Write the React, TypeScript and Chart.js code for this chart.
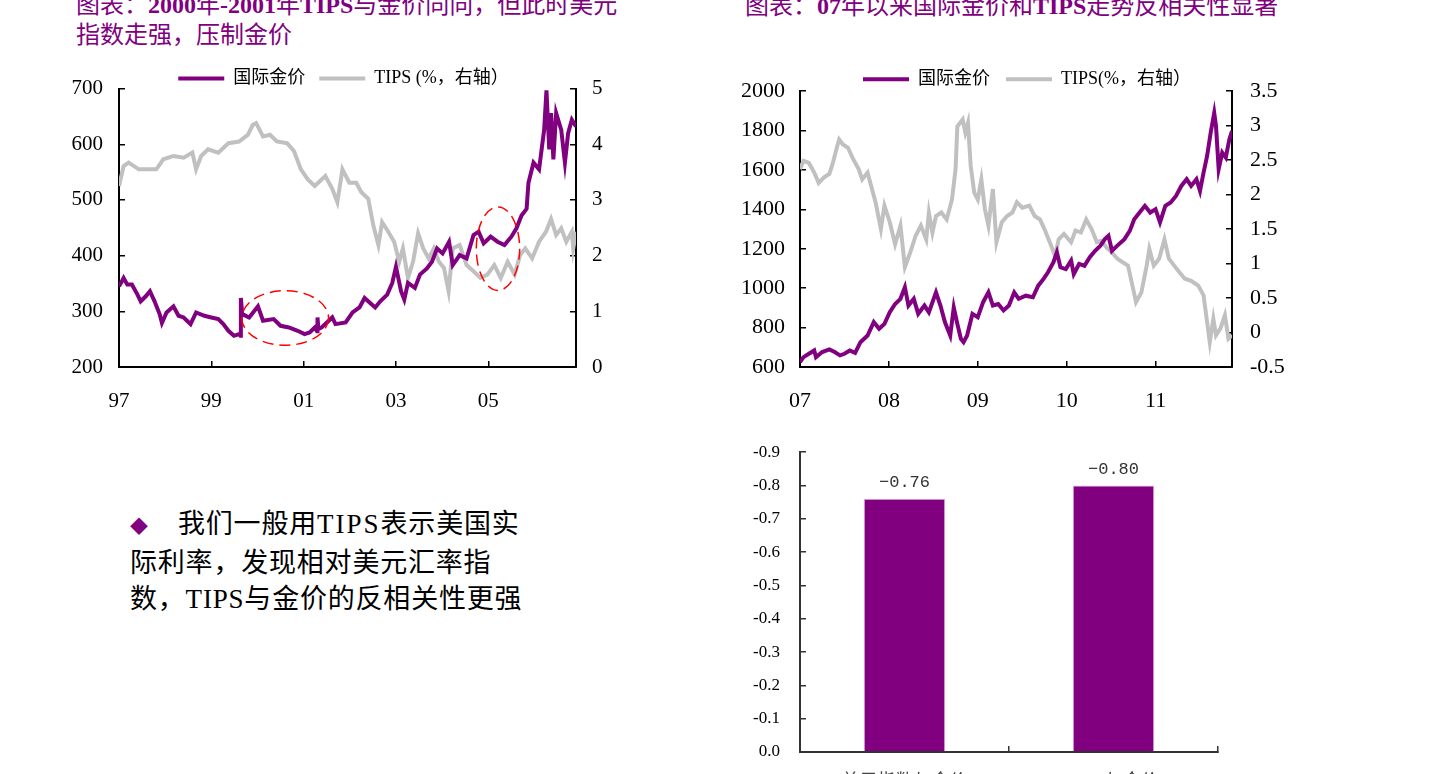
import React, { useEffect, useRef } from 'react';
import { Chart, registerables } from 'chart.js';

Chart.register(...registerables);

// ---------- Chart 1: 1997-2006 gold vs TIPS ----------
const goldYears1 = [1997.00, 1997.05, 1997.10, 1997.18, 1997.28, 1997.40, 1997.47, 1997.58, 1997.67, 1997.77, 1997.88, 1997.93, 1998.03, 1998.18, 1998.29, 1998.40, 1998.55, 1998.67, 1998.85, 1999.00, 1999.15, 1999.26, 1999.37, 1999.49, 1999.60, 1999.63, 1999.64, 1999.67, 1999.82, 2000.01, 2000.12, 2000.35, 2000.50, 2000.68, 2000.87, 2001.02, 2001.13, 2001.24, 2001.29, 2001.30, 2001.32, 2001.39, 2001.62, 2001.69, 2001.91, 2002.06, 2002.21, 2002.32, 2002.44, 2002.55, 2002.66, 2002.81, 2002.92, 2003.00, 2003.11, 2003.18, 2003.26, 2003.41, 2003.52, 2003.67, 2003.78, 2003.89, 2004.01, 2004.15, 2004.23, 2004.38, 2004.53, 2004.68, 2004.79, 2004.90, 2005.05, 2005.20, 2005.35, 2005.50, 2005.61, 2005.72, 2005.83, 2005.87, 2005.98, 2006.10, 2006.21, 2006.26, 2006.32, 2006.36, 2006.41, 2006.47, 2006.58, 2006.66, 2006.73, 2006.81, 2006.90];
const goldValues1 = [345, 352, 360, 348, 348, 330, 318, 327, 336, 318, 295, 279, 298, 309, 292, 289, 277, 298, 292, 289, 286, 277, 265, 256, 259, 256, 324, 295, 289, 309, 283, 286, 274, 271, 265, 259, 262, 271, 264, 289, 268, 271, 289, 277, 280, 298, 307, 324, 315, 307, 318, 330, 351, 380, 336, 321, 351, 342, 366, 377, 389, 413, 404, 425, 383, 401, 395, 437, 443, 422, 434, 425, 419, 434, 449, 472, 484, 531, 567, 555, 626, 697, 591, 656, 573, 656, 626, 567, 620, 644, 632];
const tipsYears1 = [1997.00, 1997.10, 1997.21, 1997.43, 1997.66, 1997.81, 1997.96, 1998.18, 1998.40, 1998.59, 1998.67, 1998.78, 1998.93, 1999.15, 1999.37, 1999.60, 1999.79, 1999.90, 1999.97, 2000.12, 2000.27, 2000.42, 2000.64, 2000.79, 2000.94, 2001.09, 2001.24, 2001.47, 2001.62, 2001.73, 2001.84, 2001.99, 2002.14, 2002.25, 2002.40, 2002.51, 2002.62, 2002.70, 2002.81, 2002.96, 2003.07, 2003.15, 2003.26, 2003.37, 2003.48, 2003.59, 2003.71, 2003.82, 2003.93, 2004.04, 2004.14, 2004.23, 2004.38, 2004.53, 2004.68, 2004.83, 2004.98, 2005.13, 2005.27, 2005.42, 2005.57, 2005.69, 2005.80, 2005.95, 2006.10, 2006.25, 2006.36, 2006.47, 2006.58, 2006.69, 2006.81, 2006.84, 2006.90];
const tipsValues1 = [3.25, 3.61, 3.67, 3.55, 3.55, 3.55, 3.73, 3.79, 3.76, 3.85, 3.55, 3.79, 3.91, 3.85, 4.02, 4.05, 4.17, 4.35, 4.38, 4.14, 4.17, 4.05, 4.02, 3.88, 3.55, 3.37, 3.25, 3.43, 3.20, 2.96, 3.55, 3.31, 3.31, 3.14, 3.02, 2.54, 2.19, 2.60, 2.46, 2.25, 1.89, 2.13, 1.60, 1.89, 2.40, 2.13, 1.95, 2.13, 1.89, 1.78, 1.36, 2.13, 2.19, 1.83, 1.72, 1.60, 1.66, 1.83, 1.60, 1.89, 1.66, 2.01, 2.13, 1.95, 2.25, 2.43, 2.66, 2.37, 2.49, 2.25, 2.43, 2.13, 2.43];
const xTicks1 = [1997, 1999, 2001, 2003, 2005];
// dashed highlight ellipses (data units: years / gold price)
const ellipseCenterYears = [2000.6, 2005.21];
const ellipseCenterGold = [288, 412.5];
const ellipseHalfYears = [0.94, 0.47];
const ellipseHalfGold = [49, 75];

// ---------- Chart 2: 2007-2011 gold vs TIPS ----------
const goldYears2 = [2007.00, 2007.04, 2007.10, 2007.16, 2007.18, 2007.25, 2007.33, 2007.39, 2007.45, 2007.50, 2007.56, 2007.62, 2007.68, 2007.76, 2007.83, 2007.89, 2007.95, 2008.01, 2008.07, 2008.13, 2008.18, 2008.22, 2008.28, 2008.33, 2008.40, 2008.45, 2008.53, 2008.58, 2008.63, 2008.69, 2008.73, 2008.77, 2008.81, 2008.84, 2008.88, 2008.94, 2009.00, 2009.06, 2009.12, 2009.17, 2009.23, 2009.29, 2009.35, 2009.41, 2009.46, 2009.54, 2009.62, 2009.68, 2009.74, 2009.79, 2009.85, 2009.89, 2009.93, 2009.99, 2010.05, 2010.08, 2010.14, 2010.20, 2010.26, 2010.32, 2010.38, 2010.43, 2010.47, 2010.51, 2010.57, 2010.65, 2010.71, 2010.76, 2010.82, 2010.88, 2010.94, 2011.00, 2011.05, 2011.11, 2011.17, 2011.23, 2011.29, 2011.35, 2011.40, 2011.46, 2011.50, 2011.54, 2011.58, 2011.62, 2011.66, 2011.68, 2011.71, 2011.75, 2011.79, 2011.83, 2011.86];
const goldValues2 = [625, 650, 667, 684, 650, 676, 689, 676, 659, 667, 684, 672, 726, 760, 828, 794, 819, 878, 920, 946, 1005, 912, 946, 870, 912, 878, 979, 912, 828, 760, 903, 819, 743, 726, 760, 870, 853, 929, 979, 912, 920, 887, 912, 979, 946, 962, 954, 1013, 1047, 1081, 1131, 1182, 1106, 1097, 1140, 1072, 1123, 1114, 1157, 1190, 1216, 1249, 1266, 1190, 1216, 1249, 1291, 1350, 1384, 1418, 1384, 1401, 1334, 1418, 1435, 1468, 1519, 1553, 1519, 1553, 1494, 1587, 1671, 1789, 1890, 1823, 1604, 1688, 1663, 1755, 1798];
const tipsYears2 = [2007.00, 2007.04, 2007.10, 2007.16, 2007.21, 2007.27, 2007.33, 2007.37, 2007.41, 2007.44, 2007.48, 2007.54, 2007.60, 2007.66, 2007.70, 2007.76, 2007.80, 2007.85, 2007.91, 2007.95, 2008.01, 2008.07, 2008.13, 2008.18, 2008.24, 2008.30, 2008.36, 2008.42, 2008.45, 2008.49, 2008.53, 2008.59, 2008.65, 2008.71, 2008.75, 2008.77, 2008.80, 2008.83, 2008.86, 2008.89, 2008.92, 2008.96, 2009.00, 2009.04, 2009.08, 2009.12, 2009.17, 2009.21, 2009.27, 2009.33, 2009.39, 2009.44, 2009.50, 2009.58, 2009.64, 2009.70, 2009.75, 2009.81, 2009.87, 2009.91, 2009.97, 2010.05, 2010.10, 2010.16, 2010.22, 2010.28, 2010.34, 2010.39, 2010.45, 2010.51, 2010.57, 2010.63, 2010.69, 2010.74, 2010.78, 2010.84, 2010.90, 2010.93, 2010.98, 2011.04, 2011.10, 2011.15, 2011.21, 2011.27, 2011.33, 2011.40, 2011.48, 2011.54, 2011.58, 2011.61, 2011.65, 2011.68, 2011.73, 2011.78, 2011.82, 2011.86];
const tipsValues2 = [2.37, 2.49, 2.46, 2.32, 2.17, 2.25, 2.30, 2.46, 2.66, 2.80, 2.73, 2.68, 2.51, 2.37, 2.22, 2.32, 2.13, 1.89, 1.50, 1.84, 1.60, 1.28, 1.55, 0.95, 1.16, 1.40, 1.55, 1.35, 1.74, 1.45, 1.69, 1.74, 1.64, 1.93, 2.37, 2.99, 3.04, 3.09, 2.90, 3.04, 2.42, 2.03, 1.93, 2.22, 1.79, 1.55, 2.08, 1.31, 1.60, 1.69, 1.74, 1.89, 1.81, 1.84, 1.69, 1.64, 1.50, 1.31, 1.11, 1.35, 1.43, 1.31, 1.48, 1.45, 1.64, 1.50, 1.31, 1.33, 1.23, 1.16, 1.07, 1.02, 0.97, 0.68, 0.44, 0.58, 0.97, 1.21, 0.97, 1.07, 1.35, 1.07, 0.97, 0.87, 0.78, 0.75, 0.68, 0.54, 0.15, -0.14, 0.20, -0.04, 0.06, 0.25, -0.09, -0.04];
const xTicks2 = [2007, 2008, 2009, 2010, 2011];

// ---------- Chart 3: correlation bars ----------
const barCategories = ['美元指数与金价', 'TIPS与金价'];
const barValues = [-0.76, -0.80];

const PURPLE = '#800080';
const GRAY = '#c0c0c0';
const SERIF = '"Liberation Serif", "Times New Roman", serif';
const MIXED = '"Liberation Serif", "Noto Sans CJK SC", serif';

const toPoints = (xs: number[], ys: number[]) => xs.map((x, i) => ({ x, y: ys[i] }));

const tickGrid = { drawOnChartArea: false, drawTicks: true, tickLength: -6, color: '#000', lineWidth: 1.5 };
const axisBorder = { display: true, color: '#000', width: 2 };

function lineChartConfig(opts: any) {
  const f = { family: SERIF, size: opts.fontSize };
  return {
    type: 'line',
    data: {
      datasets: [
        { label: '国际金价', data: toPoints(opts.gx, opts.gy), borderColor: PURPLE, backgroundColor: PURPLE, borderWidth: 4, pointRadius: 0, yAxisID: 'y', tension: 0 },
        { label: opts.tipsLabel, data: toPoints(opts.tx, opts.ty), borderColor: GRAY, backgroundColor: GRAY, borderWidth: 4, pointRadius: 0, yAxisID: 'y1', tension: 0 },
      ],
    },
    options: {
      responsive: false,
      maintainAspectRatio: false,
      animation: false,
      events: [],
      plugins: {
        tooltip: { enabled: false },
        legend: {
          position: 'top',
          maxHeight: opts.legendH,
          labels: {
            usePointStyle: true,
            pointStyle: 'line',
            pointStyleWidth: 46,
            padding: opts.legendPad,
            color: '#000',
            font: { family: MIXED, size: 18 },
          },
        },
      },
      scales: {
        x: {
          type: 'linear',
          position: 'bottom',
          min: opts.xmin,
          max: opts.xmax,
          afterBuildTicks: (s: any) => { s.ticks = opts.xticks.map((v: number) => ({ value: v })); },
          afterFit: (s: any) => { s.height = 53; },
          grid: tickGrid,
          border: axisBorder,
          ticks: { padding: opts.xPad, color: '#000', font: f, maxRotation: 0, autoSkip: false, callback: (v: any) => String(v).slice(2) },
        },
        y: {
          position: 'left',
          min: opts.ymin,
          max: opts.ymax,
          afterFit: (s: any) => { s.width = opts.leftW; },
          grid: tickGrid,
          border: axisBorder,
          ticks: { stepSize: opts.ystep, padding: opts.leftPad, color: '#000', font: f, callback: (v: any) => String(v) },
        },
        y1: {
          position: 'right',
          min: opts.y1min,
          max: opts.y1max,
          afterFit: (s: any) => { s.width = opts.rightW; },
          grid: tickGrid,
          border: axisBorder,
          ticks: { stepSize: opts.y1step, padding: opts.rightPad, color: '#000', font: f, callback: (v: any) => String(v) },
        },
      },
    },
  };
}

const ellipsePlugin = {
  id: 'ellipses',
  afterDatasetsDraw(chart: any) {
    const { ctx } = chart;
    const xs = chart.scales.x;
    const ys = chart.scales.y;
    ctx.save();
    ctx.strokeStyle = '#ff0000';
    ctx.lineWidth = 1.5;
    ctx.setLineDash([11, 6]);
    ellipseCenterYears.forEach((cxv, i) => {
      const cx = xs.getPixelForValue(cxv);
      const cy = ys.getPixelForValue(ellipseCenterGold[i]);
      const rx = Math.abs(xs.getPixelForValue(cxv + ellipseHalfYears[i]) - cx);
      const ry = Math.abs(ys.getPixelForValue(ellipseCenterGold[i] + ellipseHalfGold[i]) - cy);
      ctx.beginPath();
      ctx.ellipse(cx, cy, rx, ry, 0, 0, Math.PI * 2);
      ctx.stroke();
    });
    ctx.restore();
  },
};

const barLabelPlugin = {
  id: 'barLabels',
  afterDatasetsDraw(chart: any) {
    const { ctx } = chart;
    const meta = chart.getDatasetMeta(0);
    ctx.save();
    ctx.fillStyle = '#333';
    ctx.font = '17px "Liberation Mono", monospace';
    ctx.textAlign = 'center';
    ctx.textBaseline = 'bottom';
    meta.data.forEach((bar: any, i: number) => {
      const v = barValues[i];
      ctx.fillText('−' + Math.abs(v).toFixed(2), bar.x, bar.y - 8);
    });
    ctx.restore();
  },
};

export default function App() {
  const c1 = useRef<HTMLCanvasElement>(null);
  const c2 = useRef<HTMLCanvasElement>(null);
  const c3 = useRef<HTMLCanvasElement>(null);

  useEffect(() => {
    const ch1 = new Chart(c1.current as any, {
      ...(lineChartConfig({
        gx: goldYears1, gy: goldValues1, tx: tipsYears1, ty: tipsValues1,
        tipsLabel: 'TIPS (%，右轴）', xmin: 1997, xmax: 2006.9, xticks: xTicks1,
        ymin: 200, ymax: 700, ystep: 100, y1min: 0, y1max: 5, y1step: 1,
        leftW: 59, rightW: 51, leftPad: 22, rightPad: 22, legendH: 33, legendPad: 14,
        fontSize: 21, xPad: 28,
      }) as any),
      plugins: [ellipsePlugin],
    } as any);

    const ch2 = new Chart(c2.current as any, lineChartConfig({
      gx: goldYears2, gy: goldValues2, tx: tipsYears2, ty: tipsValues2,
      tipsLabel: 'TIPS(%，右轴）', xmin: 2007, xmax: 2011.86, xticks: xTicks2,
      ymin: 600, ymax: 2000, ystep: 200, y1min: -0.5, y1max: 3.5, y1step: 0.5,
      leftW: 70, rightW: 92, leftPad: 21, rightPad: 24, legendH: 37, legendPad: 16,
      fontSize: 22, xPad: 27,
    }) as any);

    const ch3 = new Chart(c3.current as any, {
      type: 'bar',
      data: {
        labels: barCategories,
        datasets: [{
          data: barValues,
          backgroundColor: PURPLE,
          borderColor: '#dcb0dc',
          borderWidth: 1,
          categoryPercentage: 1,
          barPercentage: 0.39,
        }],
      },
      options: {
        responsive: false,
        maintainAspectRatio: false,
        animation: false,
        events: [],
        layout: { padding: { top: 0, right: 22 } },
        plugins: { legend: { display: false }, tooltip: { enabled: false } },
        scales: {
          x: {
            afterFit: (s: any) => { s.height = 48; },
            grid: { ...tickGrid, color: '#333', offset: true },
            border: { display: true, color: '#333', width: 2 },
            ticks: { padding: 25, color: '#444', font: { family: MIXED, size: 18 } },
          },
          y: {
            min: -0.9,
            max: 0,
            reverse: true,
            afterFit: (s: any) => { s.width = 70; },
            grid: { ...tickGrid, color: '#333' },
            border: { display: true, color: '#333', width: 2 },
            ticks: { stepSize: 0.1, padding: 26, color: '#000', font: { family: SERIF, size: 17 }, callback: (v: any) => Number(v).toFixed(1) },
          },
        },
      },
      plugins: [barLabelPlugin],
    } as any);

    return () => { ch1.destroy(); ch2.destroy(); ch3.destroy(); };
  }, []);

  const titleStyle: React.CSSProperties = {
    position: 'absolute', fontFamily: MIXED, fontSize: 24, lineHeight: '30px', color: PURPLE, whiteSpace: 'nowrap',
  };
  const latin: React.CSSProperties = { fontFamily: SERIF };

  return (
    <div style={{ position: 'absolute', left: 0, top: 0, width: 1436, height: 774, overflow: 'hidden', background: '#fff' }}>
      <div style={{ ...titleStyle, left: 76, top: -10 }}>
        图表：<b>2000</b>年<b>-2001</b>年<b>TIPS</b>与金价同向，但此时美元<br />指数走强，压制金价
      </div>
      <div style={{ ...titleStyle, left: 745, top: -9 }}>
        图表：<b>07</b>年以来国际金价和<b>TIPS</b>走势反相关性显著
      </div>

      <canvas ref={c1} width={567} height={366} style={{ position: 'absolute', left: 60, top: 54, width: 567, height: 366 }} />
      <canvas ref={c2} width={594} height={366} style={{ position: 'absolute', left: 730, top: 54, width: 594, height: 366 }} />
      <canvas ref={c3} width={510} height={384} style={{ position: 'absolute', left: 730, top: 416, width: 510, height: 384 }} />

      <div style={{ position: 'absolute', left: 130, top: 504, width: 430, fontFamily: '"Noto Sans CJK SC", sans-serif', fontSize: 27, lineHeight: '35.5px', letterSpacing: 0.8, color: '#000', whiteSpace: 'nowrap' }}>
        <span style={{ color: PURPLE, fontSize: 18, display: 'inline-block', width: 48, verticalAlign: 'middle' }}>◆</span>
        我们一般用<span style={{ ...latin, letterSpacing: 2 }}>TIPS</span>表示美国实<br />
        际利率，发现相对美元汇率指<br />
        数，<span style={latin}>TIPS</span>与金价的反相关性更强
      </div>
    </div>
  );
}
